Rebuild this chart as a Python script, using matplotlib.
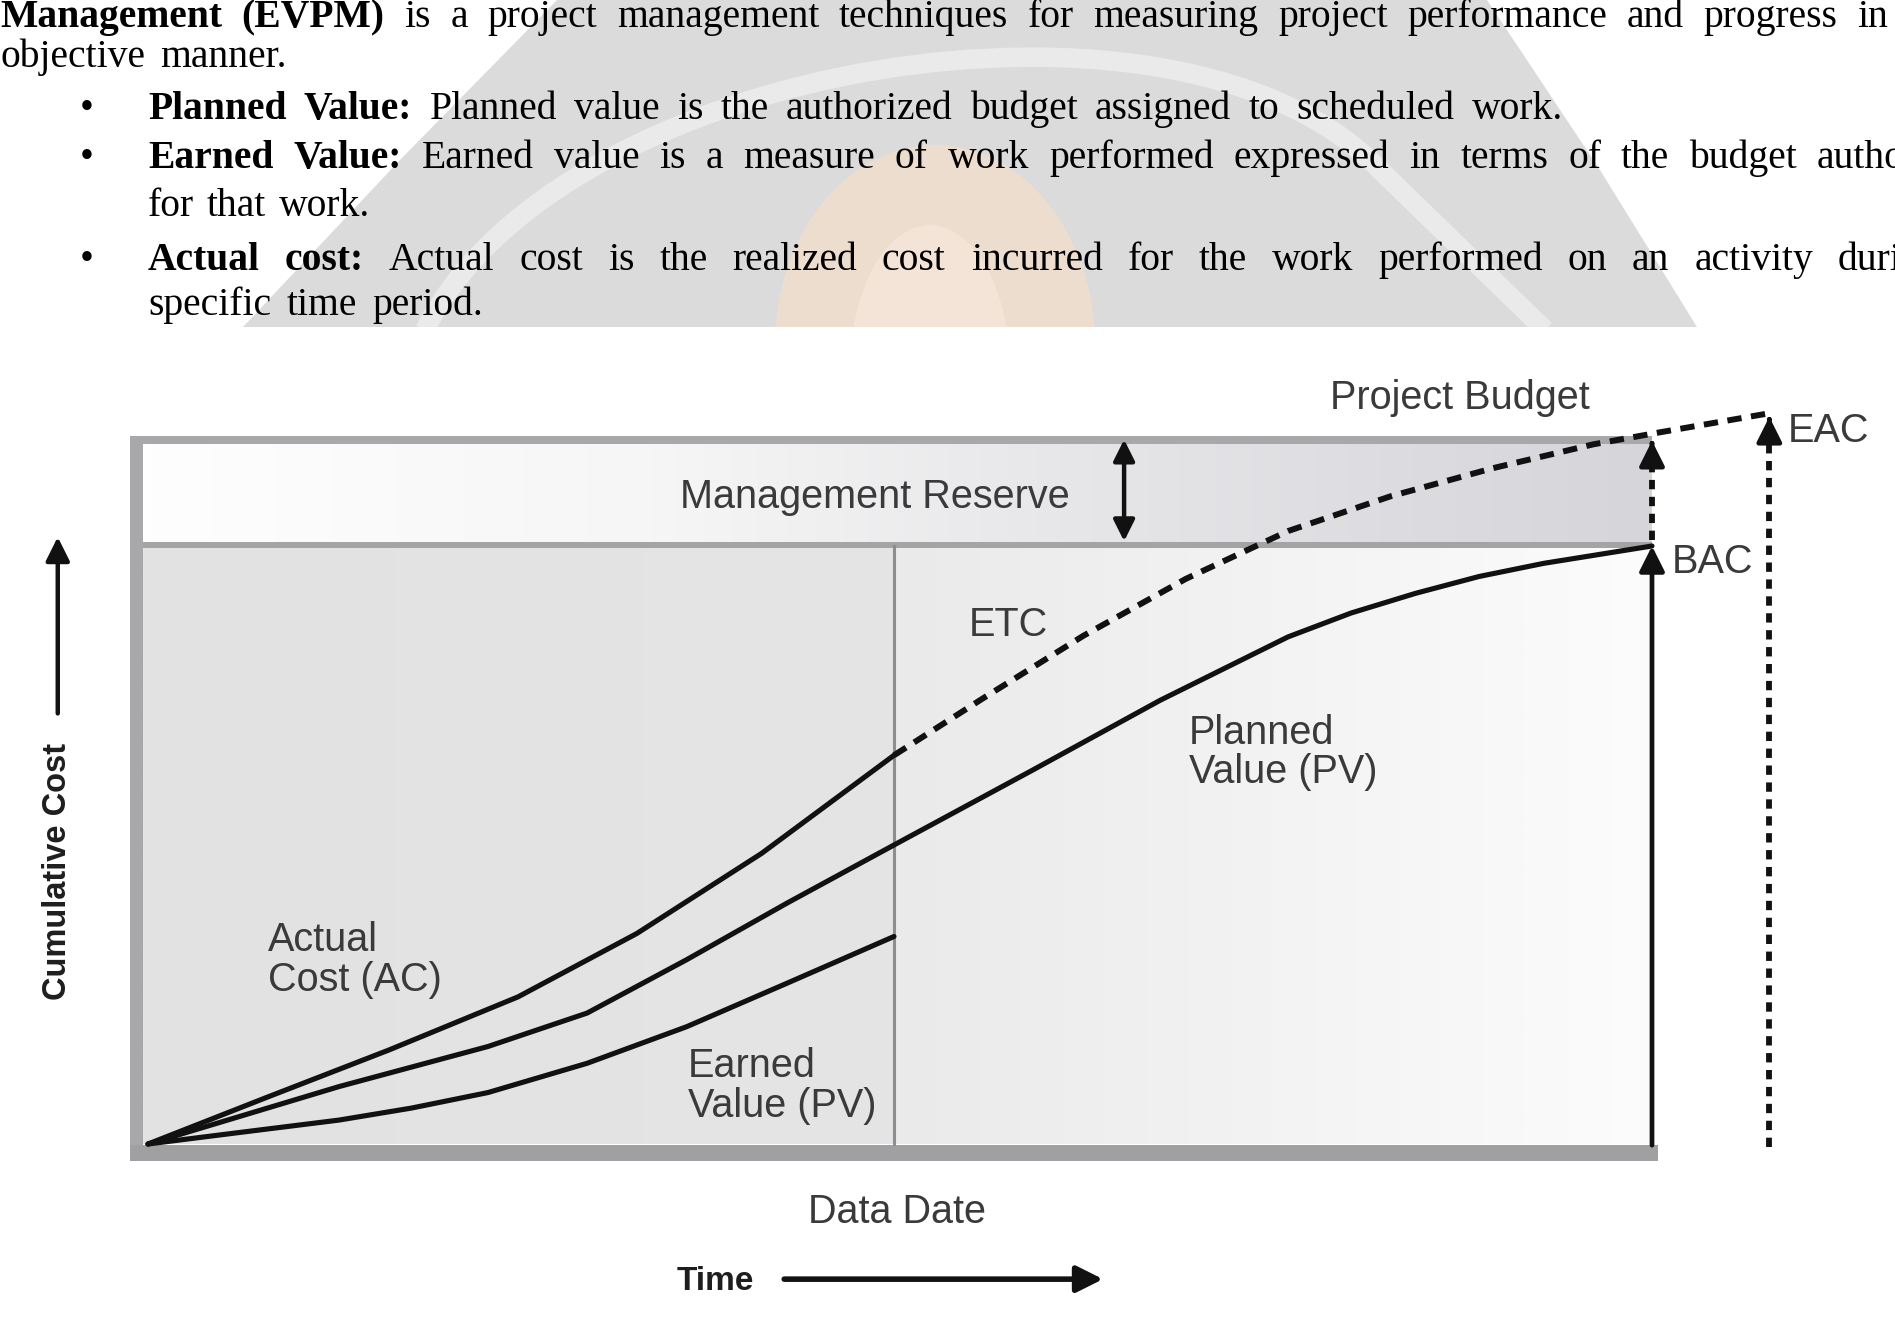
import numpy as np
import matplotlib
matplotlib.use("Agg")
import matplotlib.pyplot as plt
from matplotlib.colors import LinearSegmentedColormap
from matplotlib.patches import Polygon, Ellipse, Rectangle, PathPatch
from matplotlib.path import Path

# ---- data (time units: 0 = start, 100 = planned finish; cost units: 100 = BAC)
pv_t = [0, 12.7, 22.6, 29.2, 35.8, 42.5, 49.6, 58.8, 67.3, 75.8, 80, 84.3, 88.5, 92.8, 100]
pv_c = [0, 9.6, 16.3, 21.9, 30.8, 40.3, 50, 62.5, 74.2, 84.8, 88.8, 92.1, 94.9, 97.1, 100]
ac_t = [0, 8, 16, 24.6, 32.5, 40.8, 49.6]
ac_c = [0, 7.9, 15.7, 24.6, 35.2, 48.6, 65]
ev_t = [0, 6, 12.7, 17.5, 22.6, 29.2, 35.8, 42.5, 49.6]
ev_c = [0, 1.9, 4.0, 6.0, 8.6, 13.5, 19.6, 26.9, 34.7]
etc_t = [49.6, 55.5, 62.2, 69, 75.8, 82.6, 89.4, 96.1, 100.5, 107.8]
etc_c = [65, 74.5, 85, 94.5, 102.5, 108.3, 113, 117, 119, 122.2]

DATA_DATE = 49.6
BAC = 100
RESERVE_TOP = 117.6
EAC = 121.6
EAC_T = 107.8
MR_ARROW_T = 64.9

# paragraph lines: text, bold words, baseline, left, right edge of the last word, words past the edge, bullet x
para = [
    ("Management (EVPM) is a project management techniques for measuring project performance and progress in", 2, 27, 0, 1888, ["an"], None),
    ("objective manner.", 0, 67, 0, 287, [], None),
    ("Planned Value: Planned value is the authorized budget assigned to scheduled work.", 2, 119, 148, 1563, [], 80),
    ("Earned Value: Earned value is a measure of work performed expressed in terms of the budget", 2, 168, 148, 1797, ["authorized"], 80),
    ("for that work.", 0, 216, 148, 370, [], None),
    ("Actual cost: Actual cost is the realized cost incurred for the work performed on an activity", 2, 270, 148, 1813, ["during", "a"], 80),
    ("specific time period.", 0, 315, 148, 483, [], None),
]

fig = plt.figure(figsize=(18.95, 13.39), dpi=100)
page = fig.add_axes([0, 0, 1, 1])
page.set_xlim(0, 1895)
page.set_ylim(1339, 0)
page.axis("off")

# ---- faint watermark behind the paragraph
clip = Rectangle((0, 0), 1895, 327, transform=page.transData)
gray = Polygon([(243, 327), (400, 160), (557, 0), (640, -80), (1420, -80), (1487, 0),
                (1600, 170), (1697, 327)], closed=True, fc="#dbdbdb", ec="none", zorder=0)
band = PathPatch(Path([(425, 330), (560, 60), (1180, -40), (1380, 170), (1545, 330)],
                      [Path.MOVETO, Path.CURVE4, Path.CURVE4, Path.CURVE4, Path.LINETO]),
                 fc="none", ec="#efefef", lw=14, alpha=0.8, zorder=0.5)
flame = Ellipse((935, 345), 320, 400, fc="#f6dfca", ec="none", alpha=0.7, zorder=0.6)
inner = Ellipse((930, 370), 160, 290, fc="#f9ece0", ec="none", alpha=0.5, zorder=0.7)
for p in (gray, band, flame, inner):
    page.add_patch(p)
    p.set_clip_path(clip)

# ---- paragraph, word by word so each line is spread to its measured width
renderer = fig.canvas.get_renderer()
SERIF = "Liberation Serif"
FS = 28.5
for line, nbold, base, x0, xend, extra, bullet in para:
    words = line.split(" ")
    items = []
    for i, w in enumerate(words + extra):
        items.append(page.text(0, base, w, family=SERIF, fontsize=FS, va="baseline",
                               fontweight="bold" if i < nbold else "normal", zorder=2))
    widths = [it.get_window_extent(renderer).width for it in items]
    n = len(words)
    gap = max((xend - x0 - sum(widths[:n])) / (n - 1), 0.15 * FS)
    x = x0
    for it, w in zip(items, widths):
        it.set_x(x)
        x += w + gap
    if bullet is not None:
        page.text(bullet, base, "\u2022", family=SERIF, fontsize=FS, va="baseline", zorder=2)

# ---- chart axes in time / cost units
ax = fig.add_axes([0, 0, 1, 1])
ax.patch.set_alpha(0)
T0, T1 = -148 / 15.04, (1895 - 148) / 15.04
C0, C1 = (1144 - 1339) / 5.98, 1144 / 5.98


def grad(x0, x1, y0, y1, colors, z):
    cm = LinearSegmentedColormap.from_list("g", colors)
    ax.imshow(np.linspace(0, 1, 256)[None, :], cmap=cm, extent=(x0, x1, y0, y1),
              aspect="auto", interpolation="bilinear", zorder=z)


grad(-0.3, DATA_DATE, 0, 100.5, ["#e2e2e3", "#e5e5e6"], 1)
grad(DATA_DATE, BAC, 0, 100.5, ["#eaeaeb", "#f3f3f4", "#fcfcfc"], 1)
grad(-0.3, BAC, 100.5, 117.0, ["#fefefe", "#f6f6f6", "#e4e4e7", "#d5d5da"], 1)

frame = "#a8a8aa"
ax.fill_between([-1.2, -0.3], -2.8, 118.4, color=frame, lw=0, zorder=2)
ax.fill_between([-1.2, BAC + 0.4], -2.8, -0.2, color="#a0a0a2", lw=0, zorder=2)
ax.fill_between([-1.2, BAC], 117.0, 118.4, color=frame, lw=0, zorder=2)
ax.fill_between([-0.3, BAC], 99.6, 100.6, color="#a4a4a6", lw=0, zorder=2)
ax.plot([DATA_DATE, DATA_DATE], [0, 100], color="#8e8e90", lw=2.2, zorder=3)

# curves
for t, c in ((pv_t, pv_c), (ac_t, ac_c), (ev_t, ev_c)):
    ax.plot(t, c, color="#111111", lw=3.7, solid_capstyle="round", solid_joinstyle="round", zorder=4)
ax.plot(etc_t, etc_c, color="#111111", lw=4.3, linestyle=(0, (2.4, 1.6)), zorder=4)

# BAC and EAC arrows
arrow = dict(arrowstyle="-|>", color="#111111", lw=3.4, mutation_scale=38, shrinkA=0, shrinkB=0)
ax.annotate("", xy=(BAC, BAC), xytext=(BAC, -0.2), arrowprops=arrow, zorder=5)
ax.plot([BAC, BAC], [BAC + 1, RESERVE_TOP - 3], color="#111111", lw=4.2, linestyle=(0, (1.6, 1.3)), zorder=5)
ax.annotate("", xy=(BAC, RESERVE_TOP), xytext=(BAC, RESERVE_TOP - 0.5), arrowprops=arrow, zorder=5)
ax.plot([EAC_T, EAC_T], [-0.5, EAC - 3], color="#111111", lw=4.2, linestyle=(0, (1.6, 1.3)), zorder=5)
ax.annotate("", xy=(EAC_T, EAC), xytext=(EAC_T, EAC - 0.5), arrowprops=arrow, zorder=5)
ax.annotate("", xy=(MR_ARROW_T, 100.8), xytext=(MR_ARROW_T, 117.8),
            arrowprops=dict(arrowstyle="<|-|>", color="#111111", lw=3.2, mutation_scale=32,
                            shrinkA=0, shrinkB=0), zorder=5)

# time / cost axis arrows
ax.annotate("", xy=(63.5, -22.6), xytext=(42.3, -22.6),
            arrowprops=dict(arrowstyle="-|>", color="#111111", lw=4, mutation_scale=40,
                            shrinkA=0, shrinkB=0), zorder=5)
ax.annotate("", xy=(-6.0, 101.5), xytext=(-6.0, 72),
            arrowprops=dict(arrowstyle="-|>", color="#111111", lw=3.2, mutation_scale=36,
                            shrinkA=0, shrinkB=0), zorder=5)

# labels
lab = dict(family="Liberation Sans", fontsize=28.5, color="#3a3a3a", zorder=6)
ax.text(48.3, 108.2, "Management Reserve", ha="center", va="center", **lab)
ax.text(87.2, 124.8, "Project Budget", ha="center", va="center", **lab)
ax.text(109.0, 119.2, "EAC", ha="left", va="center", **lab)
ax.text(101.3, 97.3, "BAC", ha="left", va="center", **lab)
ax.text(57.2, 86.8, "ETC", ha="center", va="center", **lab)
ax.text(69.2, 65.5, "Planned\nValue (PV)", ha="left", va="center", linespacing=1.05, **lab)
ax.text(8.0, 30.8, "Actual\nCost (AC)", ha="left", va="center", linespacing=1.05, **lab)
ax.text(35.9, 9.7, "Earned\nValue (PV)", ha="left", va="center", linespacing=1.05, **lab)
ax.text(49.8, -11.3, "Data Date", ha="center", va="center", **lab)

bold = dict(family="Liberation Sans", fontweight="bold", color="#1e1e1e", zorder=6)
ax.text(37.7, -23.0, "Time", ha="center", va="center", fontsize=24, **bold)
ax.text(-6.0, 45.6, "Cumulative Cost", ha="center", va="center", rotation=90, fontsize=23.5, **bold)

ax.set_xlim(T0, T1)
ax.set_ylim(C0, C1)
ax.axis("off")

fig.savefig("out.png", dpi=100)
